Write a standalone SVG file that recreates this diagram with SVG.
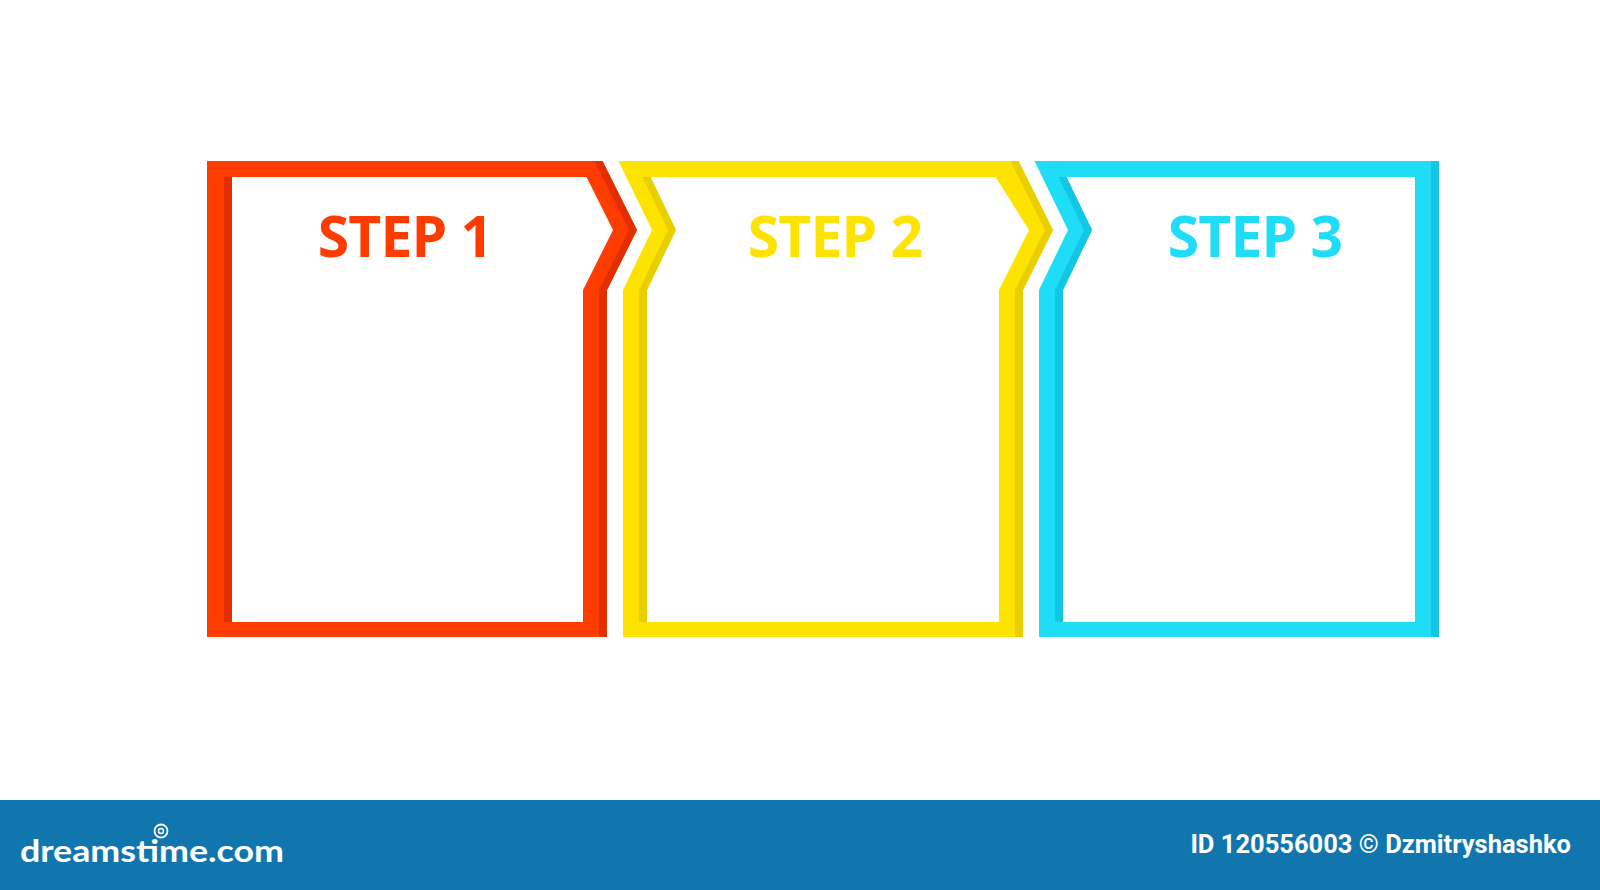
<svg xmlns="http://www.w3.org/2000/svg" width="1600" height="890" viewBox="0 0 1600 890">
  <style>
    .inner { fill: #FFFFFF; }
    .red { fill: #FF3C00; }
    .red-d { fill: #E22F00; }
    .yel { fill: #FFE300; }
    .yel-d { fill: #EACF00; }
    .cya { fill: #1FDDF7; }
    .cya-d { fill: #12C7E4; }
    .step { font-family: "Open Sans", "Liberation Sans", sans-serif; font-weight: 700; font-size: 57px; letter-spacing: -0.8px; text-anchor: middle; }
    .footer { fill: #1276AE; }
    .ftxt { fill: #FFFFFF; }
  </style>
  <rect x="0" y="0" width="1600" height="890" fill="#FFFFFF"/>

  <g id="step1">
    <path class="red" d="M207,161 H602.5 L637,230 L607,290 V637 H207 Z"/>
    <path class="inner" d="M232,177 H586.5 L613,230 L583,290 V622 H232 Z"/>
    <rect class="red-d" x="224" y="177" width="8" height="445"/>
    <polygon class="red-d" points="594.5,161 602.5,161 637,230 607,290 607,637 599,637 599,290 629,230"/>
    <text class="step red" x="405" y="257">STEP 1</text>
  </g>

  <g id="step2">
    <path class="yel" d="M618.5,161 H1018.5 L1053,230 L1023,290 V637 H623 V290 L652,230 Z"/>
    <path class="inner" d="M650.5,177 H995.5 L1029,230 L999,290 V622 H647 V290 L676,230 Z"/>
    <polygon class="yel-d" points="642.5,177 650.5,177 676,230 647,290 647,622 639,622 639,290 668,230"/>
    <polygon class="yel-d" points="1010.5,161 1018.5,161 1053,230 1023,290 1023,637 1015,637 1015,290 1045,230"/>
    <text class="step yel" x="835" y="257">STEP 2</text>
  </g>

  <g id="step3">
    <path class="cya" d="M1034.5,161 H1439 V637 H1039 V290 L1068,230 Z"/>
    <path class="inner" d="M1066.5,177 H1415 V622 H1063 V290 L1092,230 Z"/>
    <polygon class="cya-d" points="1058.5,177 1066.5,177 1092,230 1063,290 1063,622 1055,622 1055,290 1084,230"/>
    <rect class="cya-d" x="1431" y="161" width="8" height="476"/>
    <text class="step cya" x="1255" y="257">STEP 3</text>
  </g>

  <g id="connectors"/>

  <g id="footer">
    <rect class="footer" x="0" y="800" width="1600" height="90"/>
    <text class="ftxt" x="20" y="862" font-family="Lato, 'Liberation Sans', sans-serif" font-weight="700" font-size="30" textLength="264" lengthAdjust="spacingAndGlyphs">dreamstime.com</text>
    <circle cx="161" cy="831" r="6.5" fill="none" stroke="#FFFFFF" stroke-width="1.8"/>
    <circle cx="161" cy="831" r="2.5" fill="none" stroke="#FFFFFF" stroke-width="1.4"/>
    <text class="ftxt" x="1571" y="853" font-family="Roboto, 'Liberation Sans', sans-serif" font-weight="700" font-size="25.5" text-anchor="end">ID 120556003 © Dzmitryshashko</text>
  </g>
</svg>
